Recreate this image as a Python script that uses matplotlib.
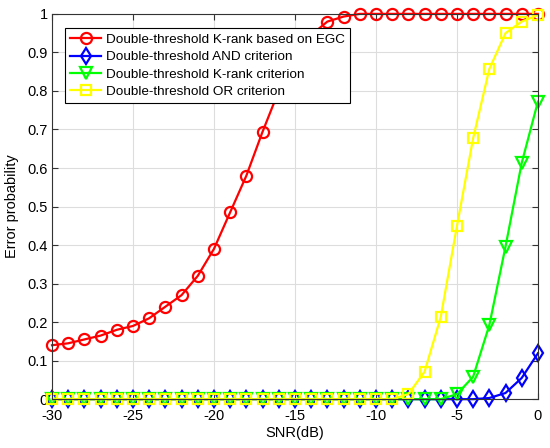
import numpy as np
import matplotlib
matplotlib.use("Agg")
import matplotlib.pyplot as plt
from matplotlib.ticker import FuncFormatter

# === Data ===
snr = list(range(-30, 1))
egc_krank = [0.14, 0.145, 0.155, 0.165, 0.18, 0.19, 0.21, 0.24, 0.27, 0.32,
             0.39, 0.485, 0.58, 0.694, 0.80, 0.885, 0.945, 0.98, 0.993, 1.0,
             1.0, 1.0, 1.0, 1.0, 1.0, 1.0, 1.0, 1.0, 1.0, 1.0, 1.0]
and_rule = [0.0] * 26 + [0.0, 0.003, 0.016, 0.055, 0.119]
krank = [0.0] * 25 + [0.013, 0.058, 0.192, 0.396, 0.613, 0.772]
or_rule = [0.0] * 22 + [0.013, 0.071, 0.213, 0.449, 0.677, 0.857, 0.95, 0.98, 0.997]

labels = ["Double-threshold K-rank based on EGC",
          "Double-threshold AND criterion",
          "Double-threshold K-rank criterion",
          "Double-threshold OR criterion"]

plt.rcParams["font.family"] = ["Liberation Sans", "DejaVu Sans"]
plt.rcParams["axes.unicode_minus"] = False

fig = plt.figure(figsize=(5.5, 4.48), dpi=100)
ax = fig.add_axes([0.0945, 0.109, 0.8835, 0.86])

style = dict(lw=1.6, ms=8, mew=1.6, mfc="none", clip_on=False)
ax.plot(snr, egc_krank, "-o", color="red", label=labels[0], **style)
ax.plot(snr, and_rule, "-d", color="blue", label=labels[1], **style)
ax.plot(snr, krank, "-v", color="#00ff00", label=labels[2], **style)
ax.plot(snr, or_rule, "-s", color="yellow", label=labels[3], **dict(style, ms=7))


def ytick_fmt(v, pos):
    if abs(v) < 1e-9 or abs(v - 1) < 1e-9:
        return f"{int(round(v))}"
    return f"{v:.1f}"


ax.set_xlim(-30, 0)
ax.set_ylim(0, 1)
ax.set_xticks(range(-30, 1, 5))
ax.set_yticks(np.arange(0, 1.01, 0.1))
ax.yaxis.set_major_formatter(FuncFormatter(ytick_fmt))
ax.tick_params(direction="in", labelsize=10.5, length=4, top=True, right=True,
               color="#333333")
ax.tick_params(axis="y", pad=3)
ax.tick_params(axis="x", pad=7)
ax.grid(True, color="#dddddd", lw=0.8)
for s in ax.spines.values():
    s.set_color("#333333")
    s.set_linewidth(0.8)

ax.set_xlabel("SNR(dB)", fontsize=10.5, labelpad=2)
ax.set_ylabel("Error probability", fontsize=10.5, labelpad=6)

leg = ax.legend(loc="upper left", bbox_to_anchor=(0.027, 0.963), fontsize=9.7,
                frameon=True, fancybox=False, edgecolor="black",
                borderpad=0.4, labelspacing=0.36, handlelength=2.3,
                handletextpad=0.3, borderaxespad=0)
leg.get_frame().set_linewidth(0.8)
leg.get_frame().set_alpha(1)

fig.savefig("out.png", dpi=100)
